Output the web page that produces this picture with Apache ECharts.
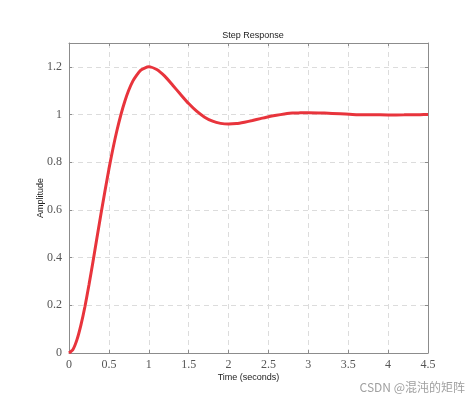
<!DOCTYPE html>
<html lang="en">
<head>
    <meta charset="UTF-8">
    <title>Step Response</title>
    <style>
        html, body { margin: 0; padding: 0; background: #fff; }
        #main { width: 474px; height: 398px; }
    </style>
</head>
<body>
<div id="main"></div>
<script src="https://cdn.jsdelivr.net/npm/echarts@6/dist/echarts.min.js"></script>
<script>
    // time (s) and amplitude
    const timeSec = [0, 0.05, 0.1, 0.15, 0.2, 0.25, 0.3, 0.4, 0.5, 0.6, 0.7, 0.8, 0.9, 1.0,
        1.1, 1.2, 1.3, 1.4, 1.5, 1.6, 1.7, 1.8, 1.9, 2.0,
        2.1, 2.2, 2.3, 2.4, 2.5, 2.6, 2.7, 2.8, 2.9, 3.0,
        3.2, 3.4, 3.6, 3.8, 4.0, 4.2, 4.4, 4.5];
    const amplitude = [0, 0.015, 0.056, 0.118, 0.195, 0.285, 0.382, 0.582, 0.771, 0.932, 1.056, 1.140, 1.186, 1.200,
        1.189, 1.161, 1.123, 1.084, 1.046, 1.014, 0.989, 0.972, 0.963, 0.960,
        0.962, 0.968, 0.975, 0.983, 0.991, 0.997, 1.002, 1.006, 1.007, 1.008,
        1.006, 1.003, 0.9995, 0.9989, 0.9984, 0.9988, 0.9995, 1.000];

    const xTicks = ['0', '0.5', '1', '1.5', '2', '2.5', '3', '3.5', '4', '4.5'];

    const points = timeSec.map((t, i) => [t, amplitude[i]]);
    const gridLine = { show: true, lineStyle: { color: '#dcdcdc', type: [5, 4], width: 1 } };
    const axisLine = { show: true, onZero: false, lineStyle: { color: '#8c8c8c', width: 1 } };
    const tick = { show: true, inside: true, length: 3, lineStyle: { color: '#8c8c8c' } };
    const serif = 'Liberation Serif';

    const myChart = echarts.init(document.getElementById('main'));
    myChart.setOption({
        animation: false,
        title: {
            text: 'Step Response',
            left: 248, top: 26, textAlign: 'center',
            textStyle: { fontSize: 9, fontWeight: 'normal', color: '#222', fontFamily: 'Liberation Sans' }
        },
        grid: { left: 69, right: 46, top: 43, bottom: 45 },
        xAxis: [{
            type: 'value', min: 0, max: 4.5, interval: 0.5,
            name: 'Time (seconds)', nameLocation: 'middle', nameGap: 20, nameMoveOverlap: false,
            nameTextStyle: { fontSize: 9, color: '#222', fontFamily: 'Liberation Sans' },
            axisLine: axisLine,
            axisTick: tick,
            axisLabel: { fontSize: 12, color: '#555', fontFamily: serif, margin: 6,
                formatter: v => xTicks[Math.round(v / 0.5)] },
            splitLine: gridLine
        }, {
            type: 'value', min: 0, max: 4.5, interval: 0.5, position: 'top',
            axisLine: axisLine,
            axisTick: tick,
            axisLabel: { show: false }, splitLine: { show: false }
        }],
        yAxis: [{
            type: 'value', min: 0, max: 1.3, interval: 0.2,
            name: 'Amplitude', nameLocation: 'middle', nameGap: 24, nameMoveOverlap: false,
            nameTextStyle: { fontSize: 9, color: '#222', fontFamily: 'Liberation Sans' },
            axisLine: axisLine,
            axisTick: tick,
            axisLabel: { fontSize: 12, color: '#555', fontFamily: serif, margin: 7, showMaxLabel: false,
                formatter: v => (v > 1.25 ? '' : String(Math.round(v * 10) / 10)) },
            splitLine: gridLine
        }, {
            type: 'value', min: 0, max: 1.3, interval: 0.2, position: 'right',
            axisLine: axisLine,
            axisTick: tick,
            axisLabel: { show: false }, splitLine: { show: false }
        }],
        series: [{
            type: 'line',
            data: points,
            smooth: 0.2,
            showSymbol: false,
            lineStyle: { color: '#e8343c', width: 3 }
        }],
        graphic: [{
            type: 'text', right: 9, bottom: 5,
            style: { text: 'CSDN @混沌的矩阵', fontSize: 12, fill: '#a0a0a0',
                fontFamily: 'Noto Sans CJK SC' }
        }]
    });
</script>
</body>
</html>
